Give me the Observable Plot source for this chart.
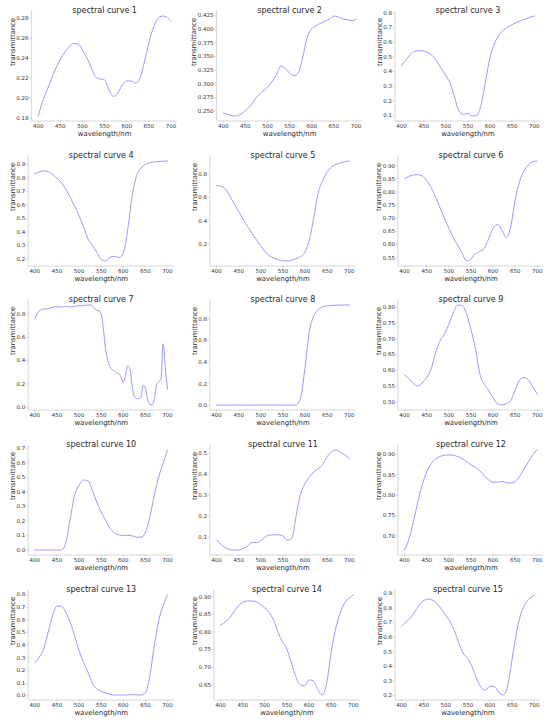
<!DOCTYPE html>
<html><head><meta charset="utf-8">
<script src="https://cdn.jsdelivr.net/npm/d3@7"></script>
<script src="https://cdn.jsdelivr.net/npm/@observablehq/plot@0.6"></script>
<style>
body{margin:0;background:#fff;}
#root{position:relative;width:550px;height:720px;overflow:hidden;font-family:"DejaVu Sans",sans-serif;background:#fff;}
.panel{position:absolute;width:184px;height:144.5px;}
</style></head><body><div id="root"></div>
<script>
const wavelengths = [400,410,420,430,440,450,460,470,480,490,500,510,520,530,540,550,560,570,580,590,600,610,620,630,640,650,660,670,680,690,700];
const wavelengths7 = [400,405,410,415,420,425,430,435,440,445,450,455,460,465,470,475,480,485,490,495,500,505,510,515,520,525,530,535,540,545,550,555,560,565,570,575,580,585,590,595,600,605,610,615,620,625,630,635,640,645,650,655,660,665,670,675,680,685,690,695,700];
const xTicks = [400,450,500,550,600,650,700];

const curve1 = [.182,.197,.208,.219,.230,.239,.246,.251,.2545,.254,.248,.240,.230,.221,.219,.218,.208,.2015,.205,.213,.217,.217,.215,.220,.236,.255,.270,.279,.282,.281,.277];
const curve2 = [.247,.244,.242,.2413,.245,.251,.259,.270,.280,.287,.294,.304,.316,.333,.328,.320,.315,.321,.350,.386,.401,.407,.411,.415,.419,.4245,.423,.419,.418,.416,.418];
const curve3 = [.44,.48,.515,.538,.543,.540,.528,.508,.470,.420,.372,.320,.225,.130,.108,.116,.097,.102,.175,.335,.495,.590,.648,.680,.703,.720,.735,.748,.759,.770,.779];
const curve4 = [.83,.845,.852,.845,.825,.798,.765,.715,.655,.590,.520,.440,.350,.300,.250,.195,.185,.212,.220,.210,.245,.420,.665,.815,.872,.900,.912,.918,.921,.923,.925];
const curve5 = [.700,.694,.670,.612,.543,.478,.414,.352,.294,.238,.186,.134,.100,.082,.068,.058,.057,.063,.078,.095,.135,.240,.430,.640,.743,.814,.858,.880,.894,.903,.909];
const curve6 = [.851,.860,.865,.866,.861,.845,.818,.782,.742,.702,.663,.628,.598,.568,.538,.545,.566,.574,.585,.622,.662,.676,.656,.627,.668,.770,.840,.880,.903,.915,.918];
const curve7 = [.757,.800,.825,.838,.843,.843,.845,.850,.857,.862,.866,.860,.858,.862,.866,.862,.860,.864,.866,.868,.872,.872,.872,.874,.877,.877,.872,.850,.830,.828,.800,.670,.495,.405,.345,.320,.308,.295,.290,.255,.212,.275,.355,.330,.180,.092,.075,.075,.090,.190,.165,.065,.026,.020,.075,.190,.220,.240,.545,.330,.155];
const curve8 = [.003,.003,.003,.003,.003,.003,.003,.003,.003,.003,.003,.003,.003,.003,.003,.003,.003,.003,.003,.07,.35,.69,.83,.89,.913,.922,.926,.928,.929,.930,.930];
const curve9 = [.586,.575,.559,.551,.561,.578,.604,.655,.693,.714,.746,.782,.807,.806,.779,.730,.671,.591,.557,.538,.514,.495,.491,.495,.505,.538,.570,.578,.570,.548,.525];
const curve10 = [0,0,0,0,0,0,0,.05,.215,.377,.446,.482,.476,.411,.330,.261,.203,.150,.118,.104,.099,.102,.097,.088,.088,.122,.226,.377,.504,.596,.688];
const curve11 = [.0855,.0645,.048,.039,.037,.037,.045,.056,.073,.073,.081,.100,.108,.110,.110,.105,.084,.092,.202,.306,.355,.387,.411,.427,.447,.484,.508,.516,.505,.492,.476];
const curve12 = [.666,.693,.735,.784,.826,.857,.877,.889,.895,.898,.899,.898,.895,.890,.883,.875,.869,.860,.848,.838,.832,.832,.834,.831,.830,.834,.846,.864,.882,.900,.911];
const curve13 = [.259,.304,.370,.502,.634,.710,.708,.660,.581,.475,.356,.264,.185,.100,.053,.034,.021,.011,.005,.005,.005,.006,.008,.006,.005,.020,.158,.396,.594,.713,.797];
const curve14 = [.820,.828,.839,.857,.874,.884,.888,.888,.886,.878,.868,.855,.833,.799,.772,.751,.713,.674,.650,.647,.664,.661,.636,.621,.655,.741,.808,.852,.881,.895,.905];
const curve15 = [.675,.705,.732,.774,.820,.850,.861,.854,.831,.792,.751,.705,.641,.556,.487,.452,.395,.315,.257,.239,.266,.262,.223,.205,.269,.452,.636,.762,.831,.866,.889];

const yTicks1 = ["0.18","0.20","0.22","0.24","0.26","0.28"];
const yTicks2 = ["0.250","0.275","0.300","0.325","0.350","0.375","0.400","0.425"];
const yTicks3 = ["0.1","0.2","0.3","0.4","0.5","0.6","0.7","0.8"];
const yTicks4 = ["0.2","0.3","0.4","0.5","0.6","0.7","0.8","0.9"];
const yTicks5 = ["0.2","0.4","0.6","0.8"];
const yTicks6 = ["0.55","0.60","0.65","0.70","0.75","0.80","0.85","0.90"];
const yTicks7 = ["0.0","0.2","0.4","0.6","0.8"];
const yTicks8 = ["0.0","0.2","0.4","0.6","0.8"];
const yTicks9 = ["0.50","0.55","0.60","0.65","0.70","0.75","0.80"];
const yTicks10 = ["0.0","0.1","0.2","0.3","0.4","0.5","0.6","0.7"];
const yTicks11 = ["0.1","0.2","0.3","0.4","0.5"];
const yTicks12 = ["0.70","0.75","0.80","0.85","0.90"];
const yTicks13 = ["0.0","0.1","0.2","0.3","0.4","0.5","0.6","0.7","0.8"];
const yTicks14 = ["0.65","0.70","0.75","0.80","0.85","0.90"];
const yTicks15 = ["0.2","0.3","0.4","0.5","0.6","0.7","0.8","0.9"];

const titles = ["spectral curve 1","spectral curve 2","spectral curve 3","spectral curve 4","spectral curve 5","spectral curve 6","spectral curve 7","spectral curve 8","spectral curve 9","spectral curve 10","spectral curve 11","spectral curve 12","spectral curve 13","spectral curve 14","spectral curve 15"];
const xLabel = "wavelength/nm";
const yLabel = "transmittance";

const curves = [curve1,curve2,curve3,curve4,curve5,curve6,curve7,curve8,curve9,curve10,curve11,curve12,curve13,curve14,curve15];
const yTickSets = [yTicks1,yTicks2,yTicks3,yTicks4,yTicks5,yTicks6,yTicks7,yTicks8,yTicks9,yTicks10,yTicks11,yTicks12,yTicks13,yTicks14,yTicks15];

// layout (axes left edge of each panel, in page pixels)
const panelLeft = [31.1,216.1,394.4,27.7,209.4,397.4,27.7,209.4,397.4,27.7,209.4,397.4,27.7,213.4,394.4];

const root = document.getElementById("root");
const LINE = "#9999ff", SPINE = "#cccccc", TXT = "#262626", TICKTXT = "#333333";
const AXW = 146, CELLW = 184, ROWP = 144.7, MT = 10.5, AXH = 110, MB = 24;

curves.forEach((vals, i) => {
  const col = i % 3, row = Math.floor(i / 3);
  const wl = i === 6 ? wavelengths7 : wavelengths;
  const data = vals.map((t, k) => ({w: wl[k], t}));
  const lo0 = d3.min(vals), hi0 = d3.max(vals), pad = (hi0 - lo0) * 0.05;
  const lo = lo0 - pad, hi = hi0 + pad;
  const yt = yTickSets[i];
  const dec = yt[0].split(".")[1].length;
  const svgLeft = col * CELLW;
  const ML = panelLeft[i] - svgLeft;
  const MR = CELLW - ML - AXW;
  const ylabOff = 4.9 + 3.55 * yt[0].length;
  const chart = Plot.plot({
    width: CELLW, height: MT + AXH + MB,
    marginLeft: ML, marginRight: MR, marginTop: MT, marginBottom: MB,
    x: {domain: [385, 715]},
    y: {domain: [lo, hi]},
    style: {fontFamily: "DejaVu Sans, sans-serif", background: "transparent", overflow: "visible"},
    marks: [
      Plot.ruleX([385], {stroke: SPINE, strokeWidth: 0.8}),
      Plot.ruleY([lo], {stroke: SPINE, strokeWidth: 0.8}),
      Plot.axisX({ticks: xTicks, tickFormat: d => String(d), tickSize: 2, tickPadding: 1, fontSize: 5.5, stroke: SPINE, strokeWidth: 0.8, fill: TICKTXT, label: null}),
      Plot.axisY({ticks: yt.map(Number), tickFormat: d => d.toFixed(dec), tickSize: 2, tickPadding: 1, fontSize: 5.5, stroke: SPINE, strokeWidth: 0.8, fill: TICKTXT, label: null}),
      Plot.line(data, {x: "w", y: "t", stroke: LINE, strokeWidth: 1, curve: "monotone-x"}),
      Plot.text([titles[i]], {text: d => d, frameAnchor: "top", lineAnchor: "middle", dy: -0.5, fontSize: 8, fill: TXT}),
      Plot.text([xLabel], {text: d => d, frameAnchor: "bottom", lineAnchor: "middle", dy: 12.3, fontSize: 6.9, fill: TXT}),
      Plot.text([yLabel], {text: d => d, frameAnchor: "left", lineAnchor: "middle", rotate: -90, dx: -ylabOff, fontSize: 6.9, fill: TXT})
    ]
  });
  const div = document.createElement("div");
  div.className = "panel";
  div.style.left = svgLeft + "px";
  div.style.top = (row * ROWP) + "px";
  div.appendChild(chart);
  root.appendChild(div);
});
</script>
</body></html>
